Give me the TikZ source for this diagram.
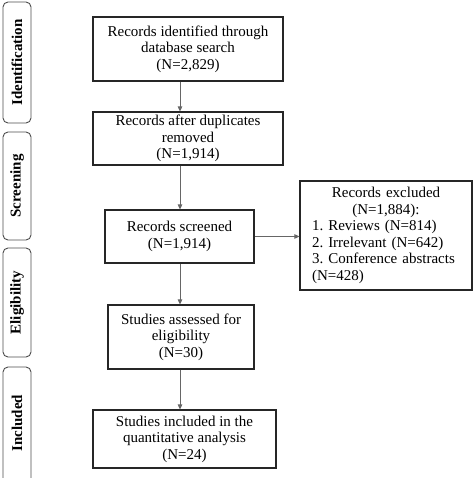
\documentclass[tikz,border=0pt]{standalone}
\usepackage{fontspec}
\setmainfont{Liberation Serif}
\frenchspacing
\usetikzlibrary{arrows.meta}
\begin{document}
\begin{tikzpicture}[x=1pt,y=-1pt,
  box/.style={draw=black!85,line width=1.1pt,inner sep=0pt,align=center,
    font=\fontsize{15}{16.5}\selectfont},
  tab/.style={draw=black!70,line width=0.9pt,rounded corners=5pt,minimum width=28pt,
    inner sep=0pt},
  tablabel/.style={rotate=90,inner sep=0pt,font=\fontsize{15}{16.5}\selectfont\bfseries},
  flow/.style={draw=black!60,line width=0.8pt,-{Triangle[length=5pt,width=4.5pt]}}]
\useasboundingbox (0,0) rectangle (474,478);
% side tabs
\node[tab,minimum height=121pt] (t1) at (17,62.5) {};
\node[tablabel] (t1l) at (t1) {Identification};
\node[tab,minimum height=108pt] (t2) at (17,186) {};
\node[tablabel] (t2l) at (t2) {Screening};
\node[tab,minimum height=109pt] (t3) at (17,302.5) {};
\node[tablabel] (t3l) at (t3) {Eligibility};
\node[tab,minimum height=116pt] (t4) at (17,425) {};
\node[tablabel] (t4l) at (17,423) {Included};
% boxes
\node[box,minimum width=190pt,minimum height=64pt] (b1) at (188,49)
  {Records identified through\\database search\\(N=2,829)};
\node[box,minimum width=190pt,minimum height=53pt] (b2) at (188,138.5)
  {Records after duplicates\\removed\\(N=1,914)};
\node[box,minimum width=149pt,minimum height=53pt] (b3) at (179.5,236.5)
  {Records screened\\(N=1,914)};
\node[box,minimum width=146pt,minimum height=64pt] (b4) at (181,337)
  {Studies assessed for\\eligibility\\(N=30)};
\node[box,minimum width=183pt,minimum height=58pt] (b5) at (184.5,439)
  {Studies included in the\\quantitative analysis\\(N=24)};
\node[box,minimum width=172pt,minimum height=109pt,text width=148pt,align=left] (ex) at (386,235.5)
  {{\centering Records excluded\\(N=1,884):\par}\raggedright
   1. Reviews (N=814)\\2. Irrelevant (N=642)\\3. Conference abstracts\\(N=428)};
% arrows
\coordinate (ax) at (180,0);
\draw[flow] (b1.south -| ax) -- (b2.north -| ax);
\draw[flow] (b2.south -| ax) -- (b3.north -| ax);
\draw[flow] (b3.south -| ax) -- (b4.north -| ax);
\draw[flow] (b4.south -| ax) -- (b5.north -| ax);
\draw[flow] (b3.east) -- (b3.east -| ex.west);
\end{tikzpicture}
\end{document}
